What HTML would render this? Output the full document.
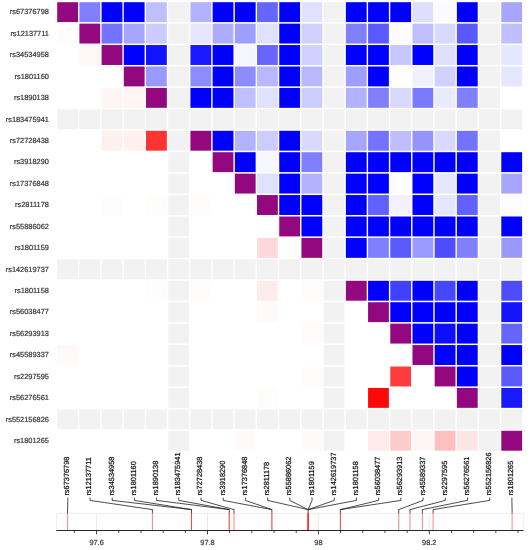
<!DOCTYPE html>
<html><head><meta charset="utf-8"><title>LD matrix</title>
<style>html,body{margin:0;padding:0;background:#fff}body{width:530px;height:550px;overflow:hidden}</style></head>
<body>
<svg width="530" height="550" viewBox="0 0 530 550" style="display:block">
<rect width="530" height="550" fill="#fff"/>
<g>
<rect x="57.20" y="2.20" width="20.80" height="19.90" fill="#93087e"/>
<rect x="79.40" y="2.20" width="20.80" height="19.90" fill="#8080ff"/>
<rect x="101.61" y="2.20" width="20.80" height="19.90" fill="#0000ff"/>
<rect x="123.81" y="2.20" width="20.80" height="19.90" fill="#0000ff"/>
<rect x="146.02" y="2.20" width="20.80" height="19.90" fill="#bfbfff"/>
<rect x="168.22" y="2.20" width="20.80" height="19.90" fill="#f2f2f2"/>
<rect x="190.43" y="2.20" width="20.80" height="19.90" fill="#b2b2ff"/>
<rect x="212.63" y="2.20" width="20.80" height="19.90" fill="#0000ff"/>
<rect x="234.84" y="2.20" width="20.80" height="19.90" fill="#0000ff"/>
<rect x="257.04" y="2.20" width="20.80" height="19.90" fill="#6666ff"/>
<rect x="279.25" y="2.20" width="20.80" height="19.90" fill="#0000ff"/>
<rect x="301.46" y="2.20" width="20.80" height="19.90" fill="#e0e0ff"/>
<rect x="323.66" y="2.20" width="20.80" height="19.90" fill="#f2f2f2"/>
<rect x="345.87" y="2.20" width="20.80" height="19.90" fill="#0000ff"/>
<rect x="368.07" y="2.20" width="20.80" height="19.90" fill="#0000ff"/>
<rect x="390.27" y="2.20" width="20.80" height="19.90" fill="#0000ff"/>
<rect x="412.48" y="2.20" width="20.80" height="19.90" fill="#dedeff"/>
<rect x="434.68" y="2.20" width="20.80" height="19.90" fill="#fafaff"/>
<rect x="456.89" y="2.20" width="20.80" height="19.90" fill="#0000ff"/>
<rect x="479.10" y="2.20" width="20.80" height="19.90" fill="#f2f2f2"/>
<rect x="501.30" y="2.20" width="20.80" height="19.90" fill="#a6a6ff"/>
<rect x="57.20" y="23.63" width="20.80" height="19.90" fill="#fffcfc"/>
<rect x="79.40" y="23.63" width="20.80" height="19.90" fill="#93087e"/>
<rect x="101.61" y="23.63" width="20.80" height="19.90" fill="#7373ff"/>
<rect x="123.81" y="23.63" width="20.80" height="19.90" fill="#a6a6ff"/>
<rect x="146.02" y="23.63" width="20.80" height="19.90" fill="#ccccff"/>
<rect x="168.22" y="23.63" width="20.80" height="19.90" fill="#f2f2f2"/>
<rect x="190.43" y="23.63" width="20.80" height="19.90" fill="#e6e6ff"/>
<rect x="212.63" y="23.63" width="20.80" height="19.90" fill="#adadff"/>
<rect x="234.84" y="23.63" width="20.80" height="19.90" fill="#9e9eff"/>
<rect x="257.04" y="23.63" width="20.80" height="19.90" fill="#e0e0ff"/>
<rect x="279.25" y="23.63" width="20.80" height="19.90" fill="#0000ff"/>
<rect x="301.46" y="23.63" width="20.80" height="19.90" fill="#d1d1ff"/>
<rect x="323.66" y="23.63" width="20.80" height="19.90" fill="#f2f2f2"/>
<rect x="345.87" y="23.63" width="20.80" height="19.90" fill="#8080ff"/>
<rect x="368.07" y="23.63" width="20.80" height="19.90" fill="#5959ff"/>
<rect x="390.27" y="23.63" width="20.80" height="19.90" fill="#fcfcff"/>
<rect x="412.48" y="23.63" width="20.80" height="19.90" fill="#bfbfff"/>
<rect x="434.68" y="23.63" width="20.80" height="19.90" fill="#d9d9ff"/>
<rect x="456.89" y="23.63" width="20.80" height="19.90" fill="#5959ff"/>
<rect x="479.10" y="23.63" width="20.80" height="19.90" fill="#f2f2f2"/>
<rect x="501.30" y="23.63" width="20.80" height="19.90" fill="#bfbfff"/>
<rect x="79.40" y="45.06" width="20.80" height="19.90" fill="#fff7f7"/>
<rect x="101.61" y="45.06" width="20.80" height="19.90" fill="#93087e"/>
<rect x="123.81" y="45.06" width="20.80" height="19.90" fill="#0000ff"/>
<rect x="146.02" y="45.06" width="20.80" height="19.90" fill="#1212ff"/>
<rect x="168.22" y="45.06" width="20.80" height="19.90" fill="#f2f2f2"/>
<rect x="190.43" y="45.06" width="20.80" height="19.90" fill="#1919ff"/>
<rect x="212.63" y="45.06" width="20.80" height="19.90" fill="#0000ff"/>
<rect x="234.84" y="45.06" width="20.80" height="19.90" fill="#f5f5ff"/>
<rect x="257.04" y="45.06" width="20.80" height="19.90" fill="#6666ff"/>
<rect x="279.25" y="45.06" width="20.80" height="19.90" fill="#0000ff"/>
<rect x="301.46" y="45.06" width="20.80" height="19.90" fill="#d1d1ff"/>
<rect x="323.66" y="45.06" width="20.80" height="19.90" fill="#f2f2f2"/>
<rect x="345.87" y="45.06" width="20.80" height="19.90" fill="#0000ff"/>
<rect x="368.07" y="45.06" width="20.80" height="19.90" fill="#0000ff"/>
<rect x="390.27" y="45.06" width="20.80" height="19.90" fill="#c7c7ff"/>
<rect x="412.48" y="45.06" width="20.80" height="19.90" fill="#0000ff"/>
<rect x="434.68" y="45.06" width="20.80" height="19.90" fill="#e0e0ff"/>
<rect x="456.89" y="45.06" width="20.80" height="19.90" fill="#0000ff"/>
<rect x="479.10" y="45.06" width="20.80" height="19.90" fill="#f2f2f2"/>
<rect x="501.30" y="45.06" width="20.80" height="19.90" fill="#e6e6ff"/>
<rect x="123.81" y="66.49" width="20.80" height="19.90" fill="#93087e"/>
<rect x="146.02" y="66.49" width="20.80" height="19.90" fill="#9999ff"/>
<rect x="168.22" y="66.49" width="20.80" height="19.90" fill="#f2f2f2"/>
<rect x="190.43" y="66.49" width="20.80" height="19.90" fill="#8c8cff"/>
<rect x="212.63" y="66.49" width="20.80" height="19.90" fill="#0000ff"/>
<rect x="234.84" y="66.49" width="20.80" height="19.90" fill="#8c8cff"/>
<rect x="257.04" y="66.49" width="20.80" height="19.90" fill="#b8b8ff"/>
<rect x="279.25" y="66.49" width="20.80" height="19.90" fill="#0000ff"/>
<rect x="301.46" y="66.49" width="20.80" height="19.90" fill="#b8b8ff"/>
<rect x="323.66" y="66.49" width="20.80" height="19.90" fill="#f2f2f2"/>
<rect x="345.87" y="66.49" width="20.80" height="19.90" fill="#9e9eff"/>
<rect x="368.07" y="66.49" width="20.80" height="19.90" fill="#0000ff"/>
<rect x="412.48" y="66.49" width="20.80" height="19.90" fill="#f0f0ff"/>
<rect x="434.68" y="66.49" width="20.80" height="19.90" fill="#d1d1ff"/>
<rect x="456.89" y="66.49" width="20.80" height="19.90" fill="#0000ff"/>
<rect x="479.10" y="66.49" width="20.80" height="19.90" fill="#f2f2f2"/>
<rect x="501.30" y="66.49" width="20.80" height="19.90" fill="#e6e6ff"/>
<rect x="101.61" y="87.92" width="20.80" height="19.90" fill="#fff5f5"/>
<rect x="123.81" y="87.92" width="20.80" height="19.90" fill="#fff5f5"/>
<rect x="146.02" y="87.92" width="20.80" height="19.90" fill="#93087e"/>
<rect x="168.22" y="87.92" width="20.80" height="19.90" fill="#f2f2f2"/>
<rect x="190.43" y="87.92" width="20.80" height="19.90" fill="#0000ff"/>
<rect x="212.63" y="87.92" width="20.80" height="19.90" fill="#0000ff"/>
<rect x="234.84" y="87.92" width="20.80" height="19.90" fill="#bfbfff"/>
<rect x="257.04" y="87.92" width="20.80" height="19.90" fill="#e0e0ff"/>
<rect x="279.25" y="87.92" width="20.80" height="19.90" fill="#0000ff"/>
<rect x="301.46" y="87.92" width="20.80" height="19.90" fill="#ccccff"/>
<rect x="323.66" y="87.92" width="20.80" height="19.90" fill="#f2f2f2"/>
<rect x="345.87" y="87.92" width="20.80" height="19.90" fill="#b2b2ff"/>
<rect x="368.07" y="87.92" width="20.80" height="19.90" fill="#8080ff"/>
<rect x="390.27" y="87.92" width="20.80" height="19.90" fill="#d9d9ff"/>
<rect x="412.48" y="87.92" width="20.80" height="19.90" fill="#7a7aff"/>
<rect x="434.68" y="87.92" width="20.80" height="19.90" fill="#ebebff"/>
<rect x="456.89" y="87.92" width="20.80" height="19.90" fill="#8080ff"/>
<rect x="479.10" y="87.92" width="20.80" height="19.90" fill="#f2f2f2"/>
<rect x="57.20" y="109.35" width="20.80" height="19.90" fill="#f2f2f2"/>
<rect x="79.40" y="109.35" width="20.80" height="19.90" fill="#f2f2f2"/>
<rect x="101.61" y="109.35" width="20.80" height="19.90" fill="#f2f2f2"/>
<rect x="123.81" y="109.35" width="20.80" height="19.90" fill="#f2f2f2"/>
<rect x="146.02" y="109.35" width="20.80" height="19.90" fill="#f2f2f2"/>
<rect x="168.22" y="109.35" width="20.80" height="19.90" fill="#f2f2f2"/>
<rect x="190.43" y="109.35" width="20.80" height="19.90" fill="#f2f2f2"/>
<rect x="212.63" y="109.35" width="20.80" height="19.90" fill="#f2f2f2"/>
<rect x="234.84" y="109.35" width="20.80" height="19.90" fill="#f2f2f2"/>
<rect x="257.04" y="109.35" width="20.80" height="19.90" fill="#f2f2f2"/>
<rect x="279.25" y="109.35" width="20.80" height="19.90" fill="#f2f2f2"/>
<rect x="301.46" y="109.35" width="20.80" height="19.90" fill="#f2f2f2"/>
<rect x="323.66" y="109.35" width="20.80" height="19.90" fill="#f2f2f2"/>
<rect x="345.87" y="109.35" width="20.80" height="19.90" fill="#f2f2f2"/>
<rect x="368.07" y="109.35" width="20.80" height="19.90" fill="#f2f2f2"/>
<rect x="390.27" y="109.35" width="20.80" height="19.90" fill="#f2f2f2"/>
<rect x="412.48" y="109.35" width="20.80" height="19.90" fill="#f2f2f2"/>
<rect x="434.68" y="109.35" width="20.80" height="19.90" fill="#f2f2f2"/>
<rect x="456.89" y="109.35" width="20.80" height="19.90" fill="#f2f2f2"/>
<rect x="479.10" y="109.35" width="20.80" height="19.90" fill="#f2f2f2"/>
<rect x="501.30" y="109.35" width="20.80" height="19.90" fill="#f2f2f2"/>
<rect x="101.61" y="130.78" width="20.80" height="19.90" fill="#fff0f0"/>
<rect x="123.81" y="130.78" width="20.80" height="19.90" fill="#fff0f0"/>
<rect x="146.02" y="130.78" width="20.80" height="19.90" fill="#ff3333"/>
<rect x="168.22" y="130.78" width="20.80" height="19.90" fill="#f2f2f2"/>
<rect x="190.43" y="130.78" width="20.80" height="19.90" fill="#93087e"/>
<rect x="212.63" y="130.78" width="20.80" height="19.90" fill="#0000ff"/>
<rect x="234.84" y="130.78" width="20.80" height="19.90" fill="#b2b2ff"/>
<rect x="257.04" y="130.78" width="20.80" height="19.90" fill="#ccccff"/>
<rect x="279.25" y="130.78" width="20.80" height="19.90" fill="#0000ff"/>
<rect x="301.46" y="130.78" width="20.80" height="19.90" fill="#d9d9ff"/>
<rect x="323.66" y="130.78" width="20.80" height="19.90" fill="#f2f2f2"/>
<rect x="345.87" y="130.78" width="20.80" height="19.90" fill="#a6a6ff"/>
<rect x="368.07" y="130.78" width="20.80" height="19.90" fill="#7373ff"/>
<rect x="390.27" y="130.78" width="20.80" height="19.90" fill="#bfbfff"/>
<rect x="412.48" y="130.78" width="20.80" height="19.90" fill="#9494ff"/>
<rect x="434.68" y="130.78" width="20.80" height="19.90" fill="#d9d9ff"/>
<rect x="456.89" y="130.78" width="20.80" height="19.90" fill="#7373ff"/>
<rect x="479.10" y="130.78" width="20.80" height="19.90" fill="#f2f2f2"/>
<rect x="168.22" y="152.21" width="20.80" height="19.90" fill="#f2f2f2"/>
<rect x="212.63" y="152.21" width="20.80" height="19.90" fill="#93087e"/>
<rect x="234.84" y="152.21" width="20.80" height="19.90" fill="#0000ff"/>
<rect x="257.04" y="152.21" width="20.80" height="19.90" fill="#f7f7ff"/>
<rect x="279.25" y="152.21" width="20.80" height="19.90" fill="#0000ff"/>
<rect x="301.46" y="152.21" width="20.80" height="19.90" fill="#8080ff"/>
<rect x="323.66" y="152.21" width="20.80" height="19.90" fill="#f2f2f2"/>
<rect x="345.87" y="152.21" width="20.80" height="19.90" fill="#0000ff"/>
<rect x="368.07" y="152.21" width="20.80" height="19.90" fill="#0000ff"/>
<rect x="390.27" y="152.21" width="20.80" height="19.90" fill="#0000ff"/>
<rect x="412.48" y="152.21" width="20.80" height="19.90" fill="#0000ff"/>
<rect x="434.68" y="152.21" width="20.80" height="19.90" fill="#0000ff"/>
<rect x="456.89" y="152.21" width="20.80" height="19.90" fill="#0000ff"/>
<rect x="479.10" y="152.21" width="20.80" height="19.90" fill="#f2f2f2"/>
<rect x="501.30" y="152.21" width="20.80" height="19.90" fill="#0000ff"/>
<rect x="168.22" y="173.64" width="20.80" height="19.90" fill="#f2f2f2"/>
<rect x="234.84" y="173.64" width="20.80" height="19.90" fill="#93087e"/>
<rect x="257.04" y="173.64" width="20.80" height="19.90" fill="#e0e0ff"/>
<rect x="279.25" y="173.64" width="20.80" height="19.90" fill="#0000ff"/>
<rect x="301.46" y="173.64" width="20.80" height="19.90" fill="#b2b2ff"/>
<rect x="323.66" y="173.64" width="20.80" height="19.90" fill="#f2f2f2"/>
<rect x="345.87" y="173.64" width="20.80" height="19.90" fill="#0000ff"/>
<rect x="368.07" y="173.64" width="20.80" height="19.90" fill="#0000ff"/>
<rect x="412.48" y="173.64" width="20.80" height="19.90" fill="#0000ff"/>
<rect x="434.68" y="173.64" width="20.80" height="19.90" fill="#e6e6ff"/>
<rect x="456.89" y="173.64" width="20.80" height="19.90" fill="#0000ff"/>
<rect x="479.10" y="173.64" width="20.80" height="19.90" fill="#f2f2f2"/>
<rect x="501.30" y="173.64" width="20.80" height="19.90" fill="#a6a6ff"/>
<rect x="101.61" y="195.07" width="20.80" height="19.90" fill="#fffcfc"/>
<rect x="146.02" y="195.07" width="20.80" height="19.90" fill="#fffcfc"/>
<rect x="168.22" y="195.07" width="20.80" height="19.90" fill="#f2f2f2"/>
<rect x="190.43" y="195.07" width="20.80" height="19.90" fill="#fffcfc"/>
<rect x="257.04" y="195.07" width="20.80" height="19.90" fill="#93087e"/>
<rect x="279.25" y="195.07" width="20.80" height="19.90" fill="#0000ff"/>
<rect x="301.46" y="195.07" width="20.80" height="19.90" fill="#0000ff"/>
<rect x="323.66" y="195.07" width="20.80" height="19.90" fill="#f2f2f2"/>
<rect x="345.87" y="195.07" width="20.80" height="19.90" fill="#0000ff"/>
<rect x="368.07" y="195.07" width="20.80" height="19.90" fill="#6161ff"/>
<rect x="390.27" y="195.07" width="20.80" height="19.90" fill="#f2f2ff"/>
<rect x="412.48" y="195.07" width="20.80" height="19.90" fill="#0000ff"/>
<rect x="434.68" y="195.07" width="20.80" height="19.90" fill="#e6e6ff"/>
<rect x="456.89" y="195.07" width="20.80" height="19.90" fill="#6161ff"/>
<rect x="479.10" y="195.07" width="20.80" height="19.90" fill="#f2f2f2"/>
<rect x="501.30" y="195.07" width="20.80" height="19.90" fill="#fcfcff"/>
<rect x="168.22" y="216.50" width="20.80" height="19.90" fill="#f2f2f2"/>
<rect x="279.25" y="216.50" width="20.80" height="19.90" fill="#93087e"/>
<rect x="301.46" y="216.50" width="20.80" height="19.90" fill="#0000ff"/>
<rect x="323.66" y="216.50" width="20.80" height="19.90" fill="#f2f2f2"/>
<rect x="345.87" y="216.50" width="20.80" height="19.90" fill="#0000ff"/>
<rect x="368.07" y="216.50" width="20.80" height="19.90" fill="#0000ff"/>
<rect x="390.27" y="216.50" width="20.80" height="19.90" fill="#0000ff"/>
<rect x="412.48" y="216.50" width="20.80" height="19.90" fill="#0000ff"/>
<rect x="434.68" y="216.50" width="20.80" height="19.90" fill="#0000ff"/>
<rect x="456.89" y="216.50" width="20.80" height="19.90" fill="#0000ff"/>
<rect x="479.10" y="216.50" width="20.80" height="19.90" fill="#f2f2f2"/>
<rect x="501.30" y="216.50" width="20.80" height="19.90" fill="#0000ff"/>
<rect x="168.22" y="237.93" width="20.80" height="19.90" fill="#f2f2f2"/>
<rect x="257.04" y="237.93" width="20.80" height="19.90" fill="#ffd9d9"/>
<rect x="301.46" y="237.93" width="20.80" height="19.90" fill="#93087e"/>
<rect x="323.66" y="237.93" width="20.80" height="19.90" fill="#f2f2f2"/>
<rect x="345.87" y="237.93" width="20.80" height="19.90" fill="#0000ff"/>
<rect x="368.07" y="237.93" width="20.80" height="19.90" fill="#8080ff"/>
<rect x="390.27" y="237.93" width="20.80" height="19.90" fill="#5959ff"/>
<rect x="412.48" y="237.93" width="20.80" height="19.90" fill="#9999ff"/>
<rect x="434.68" y="237.93" width="20.80" height="19.90" fill="#4d4dff"/>
<rect x="456.89" y="237.93" width="20.80" height="19.90" fill="#8080ff"/>
<rect x="479.10" y="237.93" width="20.80" height="19.90" fill="#f2f2f2"/>
<rect x="501.30" y="237.93" width="20.80" height="19.90" fill="#9999ff"/>
<rect x="57.20" y="259.36" width="20.80" height="19.90" fill="#f2f2f2"/>
<rect x="79.40" y="259.36" width="20.80" height="19.90" fill="#f2f2f2"/>
<rect x="101.61" y="259.36" width="20.80" height="19.90" fill="#f2f2f2"/>
<rect x="123.81" y="259.36" width="20.80" height="19.90" fill="#f2f2f2"/>
<rect x="146.02" y="259.36" width="20.80" height="19.90" fill="#f2f2f2"/>
<rect x="168.22" y="259.36" width="20.80" height="19.90" fill="#f2f2f2"/>
<rect x="190.43" y="259.36" width="20.80" height="19.90" fill="#f2f2f2"/>
<rect x="212.63" y="259.36" width="20.80" height="19.90" fill="#f2f2f2"/>
<rect x="234.84" y="259.36" width="20.80" height="19.90" fill="#f2f2f2"/>
<rect x="257.04" y="259.36" width="20.80" height="19.90" fill="#f2f2f2"/>
<rect x="279.25" y="259.36" width="20.80" height="19.90" fill="#f2f2f2"/>
<rect x="301.46" y="259.36" width="20.80" height="19.90" fill="#f2f2f2"/>
<rect x="323.66" y="259.36" width="20.80" height="19.90" fill="#f2f2f2"/>
<rect x="345.87" y="259.36" width="20.80" height="19.90" fill="#f2f2f2"/>
<rect x="368.07" y="259.36" width="20.80" height="19.90" fill="#f2f2f2"/>
<rect x="390.27" y="259.36" width="20.80" height="19.90" fill="#f2f2f2"/>
<rect x="412.48" y="259.36" width="20.80" height="19.90" fill="#f2f2f2"/>
<rect x="434.68" y="259.36" width="20.80" height="19.90" fill="#f2f2f2"/>
<rect x="456.89" y="259.36" width="20.80" height="19.90" fill="#f2f2f2"/>
<rect x="479.10" y="259.36" width="20.80" height="19.90" fill="#f2f2f2"/>
<rect x="501.30" y="259.36" width="20.80" height="19.90" fill="#f2f2f2"/>
<rect x="146.02" y="280.79" width="20.80" height="19.90" fill="#fffcfc"/>
<rect x="168.22" y="280.79" width="20.80" height="19.90" fill="#f2f2f2"/>
<rect x="190.43" y="280.79" width="20.80" height="19.90" fill="#fffcfc"/>
<rect x="257.04" y="280.79" width="20.80" height="19.90" fill="#ffebeb"/>
<rect x="301.46" y="280.79" width="20.80" height="19.90" fill="#fffcfc"/>
<rect x="323.66" y="280.79" width="20.80" height="19.90" fill="#f2f2f2"/>
<rect x="345.87" y="280.79" width="20.80" height="19.90" fill="#93087e"/>
<rect x="368.07" y="280.79" width="20.80" height="19.90" fill="#0000ff"/>
<rect x="390.27" y="280.79" width="20.80" height="19.90" fill="#4040ff"/>
<rect x="412.48" y="280.79" width="20.80" height="19.90" fill="#0000ff"/>
<rect x="434.68" y="280.79" width="20.80" height="19.90" fill="#4747ff"/>
<rect x="456.89" y="280.79" width="20.80" height="19.90" fill="#0000ff"/>
<rect x="479.10" y="280.79" width="20.80" height="19.90" fill="#f2f2f2"/>
<rect x="501.30" y="280.79" width="20.80" height="19.90" fill="#4d4dff"/>
<rect x="168.22" y="302.22" width="20.80" height="19.90" fill="#f2f2f2"/>
<rect x="257.04" y="302.22" width="20.80" height="19.90" fill="#fffafa"/>
<rect x="323.66" y="302.22" width="20.80" height="19.90" fill="#f2f2f2"/>
<rect x="368.07" y="302.22" width="20.80" height="19.90" fill="#93087e"/>
<rect x="390.27" y="302.22" width="20.80" height="19.90" fill="#0000ff"/>
<rect x="412.48" y="302.22" width="20.80" height="19.90" fill="#0000ff"/>
<rect x="434.68" y="302.22" width="20.80" height="19.90" fill="#0000ff"/>
<rect x="456.89" y="302.22" width="20.80" height="19.90" fill="#0000ff"/>
<rect x="479.10" y="302.22" width="20.80" height="19.90" fill="#f2f2f2"/>
<rect x="501.30" y="302.22" width="20.80" height="19.90" fill="#1414ff"/>
<rect x="168.22" y="323.65" width="20.80" height="19.90" fill="#f2f2f2"/>
<rect x="301.46" y="323.65" width="20.80" height="19.90" fill="#fffbfb"/>
<rect x="323.66" y="323.65" width="20.80" height="19.90" fill="#f2f2f2"/>
<rect x="390.27" y="323.65" width="20.80" height="19.90" fill="#93087e"/>
<rect x="412.48" y="323.65" width="20.80" height="19.90" fill="#0000ff"/>
<rect x="434.68" y="323.65" width="20.80" height="19.90" fill="#0d0dff"/>
<rect x="456.89" y="323.65" width="20.80" height="19.90" fill="#0000ff"/>
<rect x="479.10" y="323.65" width="20.80" height="19.90" fill="#f2f2f2"/>
<rect x="501.30" y="323.65" width="20.80" height="19.90" fill="#6666ff"/>
<rect x="57.20" y="345.08" width="20.80" height="19.90" fill="#fffafa"/>
<rect x="168.22" y="345.08" width="20.80" height="19.90" fill="#f2f2f2"/>
<rect x="323.66" y="345.08" width="20.80" height="19.90" fill="#f2f2f2"/>
<rect x="412.48" y="345.08" width="20.80" height="19.90" fill="#93087e"/>
<rect x="434.68" y="345.08" width="20.80" height="19.90" fill="#0000ff"/>
<rect x="456.89" y="345.08" width="20.80" height="19.90" fill="#0000ff"/>
<rect x="479.10" y="345.08" width="20.80" height="19.90" fill="#f2f2f2"/>
<rect x="501.30" y="345.08" width="20.80" height="19.90" fill="#0000ff"/>
<rect x="168.22" y="366.51" width="20.80" height="19.90" fill="#f2f2f2"/>
<rect x="301.46" y="366.51" width="20.80" height="19.90" fill="#fffbfb"/>
<rect x="323.66" y="366.51" width="20.80" height="19.90" fill="#f2f2f2"/>
<rect x="390.27" y="366.51" width="20.80" height="19.90" fill="#ff3b3b"/>
<rect x="434.68" y="366.51" width="20.80" height="19.90" fill="#93087e"/>
<rect x="456.89" y="366.51" width="20.80" height="19.90" fill="#0000ff"/>
<rect x="479.10" y="366.51" width="20.80" height="19.90" fill="#f2f2f2"/>
<rect x="501.30" y="366.51" width="20.80" height="19.90" fill="#5959ff"/>
<rect x="168.22" y="387.94" width="20.80" height="19.90" fill="#f2f2f2"/>
<rect x="257.04" y="387.94" width="20.80" height="19.90" fill="#fffcfc"/>
<rect x="323.66" y="387.94" width="20.80" height="19.90" fill="#f2f2f2"/>
<rect x="368.07" y="387.94" width="20.80" height="19.90" fill="#ff0808"/>
<rect x="456.89" y="387.94" width="20.80" height="19.90" fill="#93087e"/>
<rect x="479.10" y="387.94" width="20.80" height="19.90" fill="#f2f2f2"/>
<rect x="501.30" y="387.94" width="20.80" height="19.90" fill="#1919ff"/>
<rect x="57.20" y="409.37" width="20.80" height="19.90" fill="#f2f2f2"/>
<rect x="79.40" y="409.37" width="20.80" height="19.90" fill="#f2f2f2"/>
<rect x="101.61" y="409.37" width="20.80" height="19.90" fill="#f2f2f2"/>
<rect x="123.81" y="409.37" width="20.80" height="19.90" fill="#f2f2f2"/>
<rect x="146.02" y="409.37" width="20.80" height="19.90" fill="#f2f2f2"/>
<rect x="168.22" y="409.37" width="20.80" height="19.90" fill="#f2f2f2"/>
<rect x="190.43" y="409.37" width="20.80" height="19.90" fill="#f2f2f2"/>
<rect x="212.63" y="409.37" width="20.80" height="19.90" fill="#f2f2f2"/>
<rect x="234.84" y="409.37" width="20.80" height="19.90" fill="#f2f2f2"/>
<rect x="257.04" y="409.37" width="20.80" height="19.90" fill="#f2f2f2"/>
<rect x="279.25" y="409.37" width="20.80" height="19.90" fill="#f2f2f2"/>
<rect x="301.46" y="409.37" width="20.80" height="19.90" fill="#f2f2f2"/>
<rect x="323.66" y="409.37" width="20.80" height="19.90" fill="#f2f2f2"/>
<rect x="345.87" y="409.37" width="20.80" height="19.90" fill="#f2f2f2"/>
<rect x="368.07" y="409.37" width="20.80" height="19.90" fill="#f2f2f2"/>
<rect x="390.27" y="409.37" width="20.80" height="19.90" fill="#f2f2f2"/>
<rect x="412.48" y="409.37" width="20.80" height="19.90" fill="#f2f2f2"/>
<rect x="434.68" y="409.37" width="20.80" height="19.90" fill="#f2f2f2"/>
<rect x="456.89" y="409.37" width="20.80" height="19.90" fill="#f2f2f2"/>
<rect x="479.10" y="409.37" width="20.80" height="19.90" fill="#f2f2f2"/>
<rect x="501.30" y="409.37" width="20.80" height="19.90" fill="#f2f2f2"/>
<rect x="168.22" y="430.80" width="20.80" height="19.90" fill="#f2f2f2"/>
<rect x="234.84" y="430.80" width="20.80" height="19.90" fill="#fffafa"/>
<rect x="301.46" y="430.80" width="20.80" height="19.90" fill="#fffafa"/>
<rect x="323.66" y="430.80" width="20.80" height="19.90" fill="#f2f2f2"/>
<rect x="368.07" y="430.80" width="20.80" height="19.90" fill="#ffebeb"/>
<rect x="390.27" y="430.80" width="20.80" height="19.90" fill="#ffcccc"/>
<rect x="412.48" y="430.80" width="20.80" height="19.90" fill="#fff5f5"/>
<rect x="434.68" y="430.80" width="20.80" height="19.90" fill="#ffbfbf"/>
<rect x="456.89" y="430.80" width="20.80" height="19.90" fill="#ffe6e6"/>
<rect x="479.10" y="430.80" width="20.80" height="19.90" fill="#f2f2f2"/>
<rect x="501.30" y="430.80" width="20.80" height="19.90" fill="#93087e"/>
</g>
<g text-rendering="geometricPrecision" font-family="'Liberation Sans', Arial, sans-serif" font-size="7.4" fill="#3a3a3a" stroke="#3a3a3a" stroke-width="0.22" text-anchor="end">
<text x="48.9" y="14.40">rs67376798</text>
<text x="48.9" y="35.83">rs12137711</text>
<text x="48.9" y="57.26">rs34534958</text>
<text x="48.9" y="78.69">rs1801160</text>
<text x="48.9" y="100.12">rs1890138</text>
<text x="48.9" y="121.55">rs183475941</text>
<text x="48.9" y="142.98">rs72728438</text>
<text x="48.9" y="164.41">rs3918290</text>
<text x="48.9" y="185.84">rs17376848</text>
<text x="48.9" y="207.27">rs2811178</text>
<text x="48.9" y="228.70">rs55886062</text>
<text x="48.9" y="250.13">rs1801159</text>
<text x="48.9" y="271.56">rs142619737</text>
<text x="48.9" y="292.99">rs1801158</text>
<text x="48.9" y="314.42">rs56038477</text>
<text x="48.9" y="335.85">rs56293913</text>
<text x="48.9" y="357.28">rs45589337</text>
<text x="48.9" y="378.71">rs2297595</text>
<text x="48.9" y="400.14">rs56276561</text>
<text x="48.9" y="421.57">rs552156826</text>
<text x="48.9" y="443.00">rs1801265</text>
</g>
<clipPath id="lc"><rect x="50" y="452.4" width="480" height="50"/></clipPath>
<g clip-path="url(#lc)" text-rendering="geometricPrecision" font-family="'Liberation Sans', Arial, sans-serif" font-size="7.4" fill="#111" stroke="#111" stroke-width="0.22">
<text transform="translate(69.25,495.6) rotate(-90)" >rs67376798</text>
<text transform="translate(91.45,495.6) rotate(-90)" >rs12137711</text>
<text transform="translate(113.66,495.6) rotate(-90)" >rs34534958</text>
<text transform="translate(135.86,495.6) rotate(-90)" >rs1801160</text>
<text transform="translate(158.07,495.6) rotate(-90)" >rs1890138</text>
<text transform="translate(180.27,495.6) rotate(-90)" >rs183475941</text>
<text transform="translate(202.48,495.6) rotate(-90)" >rs72728438</text>
<text transform="translate(224.68,495.6) rotate(-90)" >rs3918290</text>
<text transform="translate(246.89,495.6) rotate(-90)" >rs17376848</text>
<text transform="translate(269.09,495.6) rotate(-90)" >rs2811178</text>
<text transform="translate(291.30,495.6) rotate(-90)" >rs55886062</text>
<text transform="translate(313.50,495.6) rotate(-90)" >rs1801159</text>
<text transform="translate(335.71,495.6) rotate(-90)" >rs142619737</text>
<text transform="translate(357.91,495.6) rotate(-90)" >rs1801158</text>
<text transform="translate(380.12,495.6) rotate(-90)" >rs56038477</text>
<text transform="translate(402.32,495.6) rotate(-90)" >rs56293913</text>
<text transform="translate(424.53,495.6) rotate(-90)" >rs45589337</text>
<text transform="translate(446.73,495.6) rotate(-90)" >rs2297595</text>
<text transform="translate(468.94,495.6) rotate(-90)" >rs56276561</text>
<text transform="translate(491.14,495.6) rotate(-90)" >rs552156826</text>
<text transform="translate(513.35,495.6) rotate(-90)" >rs1801265</text>
</g>
<rect x="56.3" y="513.4" width="467.2" height="17.1" fill="#fff" stroke="#e8e8e8" stroke-width="0.7"/>
<line x1="96.60" y1="513.4" x2="96.60" y2="530.5" stroke="#e5e5e5" stroke-width="0.8"/>
<line x1="207.50" y1="513.4" x2="207.50" y2="530.5" stroke="#e5e5e5" stroke-width="0.8"/>
<line x1="318.40" y1="513.4" x2="318.40" y2="530.5" stroke="#e5e5e5" stroke-width="0.8"/>
<line x1="429.30" y1="513.4" x2="429.30" y2="530.5" stroke="#e5e5e5" stroke-width="0.8"/>
<line x1="67.60" y1="513.4" x2="67.60" y2="530.5" stroke="#ff0000" stroke-opacity="0.62" stroke-width="0.8"/>
<line x1="152.40" y1="513.4" x2="152.40" y2="530.5" stroke="#ff0000" stroke-opacity="0.62" stroke-width="0.8"/>
<line x1="191.50" y1="513.4" x2="191.50" y2="530.5" stroke="#ff0000" stroke-opacity="0.62" stroke-width="0.8"/>
<line x1="191.50" y1="513.4" x2="191.50" y2="530.5" stroke="#ff0000" stroke-opacity="0.62" stroke-width="0.8"/>
<line x1="229.20" y1="513.4" x2="229.20" y2="530.5" stroke="#ff0000" stroke-opacity="0.62" stroke-width="0.8"/>
<line x1="229.20" y1="513.4" x2="229.20" y2="530.5" stroke="#ff0000" stroke-opacity="0.62" stroke-width="0.8"/>
<line x1="234.00" y1="513.4" x2="234.00" y2="530.5" stroke="#ff0000" stroke-opacity="0.62" stroke-width="0.8"/>
<line x1="271.90" y1="513.4" x2="271.90" y2="530.5" stroke="#ff0000" stroke-opacity="0.62" stroke-width="0.8"/>
<line x1="271.90" y1="513.4" x2="271.90" y2="530.5" stroke="#ff0000" stroke-opacity="0.62" stroke-width="0.8"/>
<line x1="308.10" y1="513.4" x2="308.10" y2="530.5" stroke="#ff0000" stroke-opacity="0.62" stroke-width="0.8"/>
<line x1="308.10" y1="513.4" x2="308.10" y2="530.5" stroke="#ff0000" stroke-opacity="0.62" stroke-width="0.8"/>
<line x1="308.10" y1="513.4" x2="308.10" y2="530.5" stroke="#ff0000" stroke-opacity="0.62" stroke-width="0.8"/>
<line x1="308.10" y1="513.4" x2="308.10" y2="530.5" stroke="#ff0000" stroke-opacity="0.62" stroke-width="0.8"/>
<line x1="308.10" y1="513.4" x2="308.10" y2="530.5" stroke="#ff0000" stroke-opacity="0.62" stroke-width="0.8"/>
<line x1="340.40" y1="513.4" x2="340.40" y2="530.5" stroke="#ff0000" stroke-opacity="0.62" stroke-width="0.8"/>
<line x1="340.40" y1="513.4" x2="340.40" y2="530.5" stroke="#ff0000" stroke-opacity="0.62" stroke-width="0.8"/>
<line x1="398.70" y1="513.4" x2="398.70" y2="530.5" stroke="#ff0000" stroke-opacity="0.62" stroke-width="0.8"/>
<line x1="410.00" y1="513.4" x2="410.00" y2="530.5" stroke="#ff0000" stroke-opacity="0.62" stroke-width="0.8"/>
<line x1="422.40" y1="513.4" x2="422.40" y2="530.5" stroke="#ff0000" stroke-opacity="0.62" stroke-width="0.8"/>
<line x1="433.10" y1="513.4" x2="433.10" y2="530.5" stroke="#ff0000" stroke-opacity="0.62" stroke-width="0.8"/>
<line x1="512.10" y1="513.4" x2="512.10" y2="530.5" stroke="#ff0000" stroke-opacity="0.62" stroke-width="0.8"/>
<polyline points="67.80,497.6 67.80,500.4 67.60,509.6" fill="none" stroke="#111" stroke-width="0.75"/>
<polyline points="90.00,497.6 90.00,500.4 152.40,509.6" fill="none" stroke="#111" stroke-width="0.75"/>
<polyline points="112.21,497.6 112.21,500.4 191.50,509.6" fill="none" stroke="#111" stroke-width="0.75"/>
<polyline points="134.41,497.6 134.41,500.4 191.50,509.6" fill="none" stroke="#111" stroke-width="0.75"/>
<polyline points="156.62,497.6 156.62,500.4 229.20,509.6" fill="none" stroke="#111" stroke-width="0.75"/>
<polyline points="178.82,497.6 178.82,500.4 229.20,509.6" fill="none" stroke="#111" stroke-width="0.75"/>
<polyline points="201.03,497.6 201.03,500.4 234.00,509.6" fill="none" stroke="#111" stroke-width="0.75"/>
<polyline points="223.23,497.6 223.23,500.4 271.90,509.6" fill="none" stroke="#111" stroke-width="0.75"/>
<polyline points="245.44,497.6 245.44,500.4 271.90,509.6" fill="none" stroke="#111" stroke-width="0.75"/>
<polyline points="267.64,497.6 267.64,500.4 308.10,509.6" fill="none" stroke="#111" stroke-width="0.75"/>
<polyline points="289.85,497.6 289.85,500.4 308.10,509.6" fill="none" stroke="#111" stroke-width="0.75"/>
<polyline points="312.06,497.6 312.06,500.4 308.10,509.6" fill="none" stroke="#111" stroke-width="0.75"/>
<polyline points="334.26,497.6 334.26,500.4 308.10,509.6" fill="none" stroke="#111" stroke-width="0.75"/>
<polyline points="356.46,497.6 356.46,500.4 308.10,509.6" fill="none" stroke="#111" stroke-width="0.75"/>
<polyline points="378.67,497.6 378.67,500.4 340.40,509.6" fill="none" stroke="#111" stroke-width="0.75"/>
<polyline points="400.87,497.6 400.87,500.4 340.40,509.6" fill="none" stroke="#111" stroke-width="0.75"/>
<polyline points="423.08,497.6 423.08,500.4 398.70,509.6" fill="none" stroke="#111" stroke-width="0.75"/>
<polyline points="445.28,497.6 445.28,500.4 410.00,509.6" fill="none" stroke="#111" stroke-width="0.75"/>
<polyline points="467.49,497.6 467.49,500.4 422.40,509.6" fill="none" stroke="#111" stroke-width="0.75"/>
<polyline points="489.69,497.6 489.69,500.4 433.10,509.6" fill="none" stroke="#111" stroke-width="0.75"/>
<polyline points="511.90,497.6 511.90,500.4 512.10,509.6" fill="none" stroke="#111" stroke-width="0.75"/>
<line x1="67.60" y1="509.3" x2="67.60" y2="513.4" stroke="#111" stroke-width="0.75"/>
<line x1="152.40" y1="509.3" x2="152.40" y2="513.4" stroke="#111" stroke-width="0.75"/>
<line x1="191.50" y1="509.3" x2="191.50" y2="513.4" stroke="#111" stroke-width="0.75"/>
<line x1="229.20" y1="509.3" x2="229.20" y2="513.4" stroke="#111" stroke-width="0.75"/>
<line x1="234.00" y1="509.3" x2="234.00" y2="513.4" stroke="#111" stroke-width="0.75"/>
<line x1="271.90" y1="509.3" x2="271.90" y2="513.4" stroke="#111" stroke-width="0.75"/>
<line x1="308.10" y1="509.3" x2="308.10" y2="513.4" stroke="#111" stroke-width="0.75"/>
<line x1="340.40" y1="509.3" x2="340.40" y2="513.4" stroke="#111" stroke-width="0.75"/>
<line x1="398.70" y1="509.3" x2="398.70" y2="513.4" stroke="#111" stroke-width="0.75"/>
<line x1="410.00" y1="509.3" x2="410.00" y2="513.4" stroke="#111" stroke-width="0.75"/>
<line x1="422.40" y1="509.3" x2="422.40" y2="513.4" stroke="#111" stroke-width="0.75"/>
<line x1="433.10" y1="509.3" x2="433.10" y2="513.4" stroke="#111" stroke-width="0.75"/>
<line x1="512.10" y1="509.3" x2="512.10" y2="513.4" stroke="#111" stroke-width="0.75"/>
<line x1="56.3" y1="530.5" x2="523.5" y2="530.5" stroke="#111" stroke-width="0.9"/>
<line x1="74.42" y1="530.5" x2="74.42" y2="532.9" stroke="#111" stroke-width="0.8"/>
<line x1="96.60" y1="530.5" x2="96.60" y2="534.4" stroke="#111" stroke-width="0.8"/>
<line x1="118.78" y1="530.5" x2="118.78" y2="532.9" stroke="#111" stroke-width="0.8"/>
<line x1="140.96" y1="530.5" x2="140.96" y2="532.9" stroke="#111" stroke-width="0.8"/>
<line x1="163.14" y1="530.5" x2="163.14" y2="532.9" stroke="#111" stroke-width="0.8"/>
<line x1="185.32" y1="530.5" x2="185.32" y2="532.9" stroke="#111" stroke-width="0.8"/>
<line x1="207.50" y1="530.5" x2="207.50" y2="534.4" stroke="#111" stroke-width="0.8"/>
<line x1="229.68" y1="530.5" x2="229.68" y2="532.9" stroke="#111" stroke-width="0.8"/>
<line x1="251.86" y1="530.5" x2="251.86" y2="532.9" stroke="#111" stroke-width="0.8"/>
<line x1="274.04" y1="530.5" x2="274.04" y2="532.9" stroke="#111" stroke-width="0.8"/>
<line x1="296.22" y1="530.5" x2="296.22" y2="532.9" stroke="#111" stroke-width="0.8"/>
<line x1="318.40" y1="530.5" x2="318.40" y2="534.4" stroke="#111" stroke-width="0.8"/>
<line x1="340.58" y1="530.5" x2="340.58" y2="532.9" stroke="#111" stroke-width="0.8"/>
<line x1="362.76" y1="530.5" x2="362.76" y2="532.9" stroke="#111" stroke-width="0.8"/>
<line x1="384.94" y1="530.5" x2="384.94" y2="532.9" stroke="#111" stroke-width="0.8"/>
<line x1="407.12" y1="530.5" x2="407.12" y2="532.9" stroke="#111" stroke-width="0.8"/>
<line x1="429.30" y1="530.5" x2="429.30" y2="534.4" stroke="#111" stroke-width="0.8"/>
<line x1="451.48" y1="530.5" x2="451.48" y2="532.9" stroke="#111" stroke-width="0.8"/>
<line x1="473.66" y1="530.5" x2="473.66" y2="532.9" stroke="#111" stroke-width="0.8"/>
<line x1="495.84" y1="530.5" x2="495.84" y2="532.9" stroke="#111" stroke-width="0.8"/>
<line x1="518.02" y1="530.5" x2="518.02" y2="532.9" stroke="#111" stroke-width="0.8"/>
<g text-rendering="geometricPrecision" font-family="'Liberation Sans', Arial, sans-serif" font-size="7.4" fill="#3a3a3a" stroke="#3a3a3a" stroke-width="0.22" text-anchor="middle">
<text x="96.60" y="545.1">97.6</text>
<text x="207.50" y="545.1">97.8</text>
<text x="318.40" y="545.1">98</text>
<text x="429.30" y="545.1">98.2</text>
</g>
</svg>
</body></html>
